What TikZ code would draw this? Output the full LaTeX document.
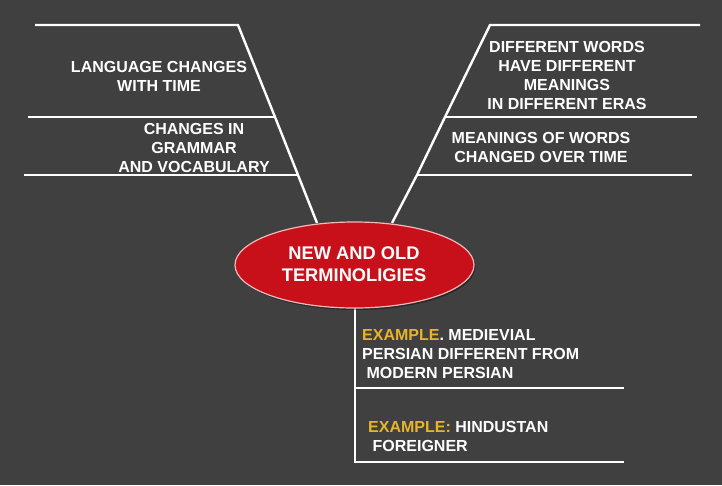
\documentclass[tikz,border=0pt]{standalone}
\usepackage{fontspec}
\setmainfont{Liberation Sans}
\usetikzlibrary{shapes.geometric,shadows}
\definecolor{bg}{HTML}{404040}
\definecolor{ered}{HTML}{C8101A}
\definecolor{eborder}{HTML}{F2B8B8}
\definecolor{gold}{HTML}{E8B428}
\begin{document}
\begin{tikzpicture}[x=1pt,y=-1pt,
  wline/.style={draw=white,line width=2.4pt},
  lbl/.style={text=white,font=\bfseries\fontsize{16}{19}\selectfont,align=center,inner sep=0pt},
  lbll/.style={text=white,font=\bfseries\fontsize{16}{19}\selectfont,align=left,inner sep=0pt,anchor=north west}]
\fill[bg] (0,0) rectangle (722,485);
\useasboundingbox (0,0) rectangle (722,485);
% left branch
\coordinate (la) at (35,25);
\coordinate (lb) at (238,25);
\coordinate (lc) at (28,117);
\coordinate (ld) at (275,117);
\coordinate (le) at (24,175);
\coordinate (lf) at (298,175);
\coordinate (lg) at (317,223);
\draw[wline] (la) -- (lb) -- (ld) -- (lf) -- (lg);
\draw[wline] (lc) -- (ld);
\draw[wline] (le) -- (lf);
% right branch
\coordinate (ra) at (700,25);
\coordinate (rb) at (490,25);
\coordinate (rc) at (697,117);
\coordinate (rd) at (445,117);
\coordinate (re) at (692,175);
\coordinate (rf) at (417,175);
\coordinate (rg) at (392,223);
\draw[wline] (ra) -- (rb) -- (rd) -- (rf) -- (rg);
\draw[wline] (rc) -- (rd);
\draw[wline] (re) -- (rf);
% bottom branch
\coordinate (ba) at (355,306);
\coordinate (bb) at (355,388);
\coordinate (bc) at (624,388);
\coordinate (bd) at (355,462);
\coordinate (be) at (624,462);
\draw[wline] (ba) -- (bd) -- (be);
\draw[wline] (bb) -- (bc);
% ellipse
\node[ellipse,minimum width=239pt,minimum height=86pt,fill=ered,draw=eborder,line width=1.2pt,
  drop shadow={shadow xshift=1.5pt,shadow yshift=-2pt,fill=black,opacity=0.35},inner sep=0pt] (c) at (354.5,265) {};
\node[lbl,font=\bfseries\fontsize{18.3}{22}\selectfont] (ct) at (354,264) {NEW AND OLD\\TERMINOLIGIES};
% texts
\node[lbl] (t1) at (159,76) {LANGUAGE CHANGES\\WITH TIME};
\node[lbl] (t2) at (194,148) {CHANGES IN\\GRAMMAR\\AND VOCABULARY};
\node[lbl] (t3) at (567,75.5) {DIFFERENT WORDS\\HAVE DIFFERENT\\MEANINGS\\IN DIFFERENT ERAS};
\node[lbl] (t4) at (541,147.5) {MEANINGS OF WORDS\\CHANGED OVER TIME};
\node[lbll] (t5) at (362,329) {\textcolor{gold}{EXAMPLE}. MEDIEVIAL\\PERSIAN DIFFERENT FROM\\\ MODERN PERSIAN};
\node[lbll] (t6) at (368,421) {\textcolor{gold}{EXAMPLE:} HINDUSTAN\\\ FOREIGNER};
\end{tikzpicture}
\end{document}
